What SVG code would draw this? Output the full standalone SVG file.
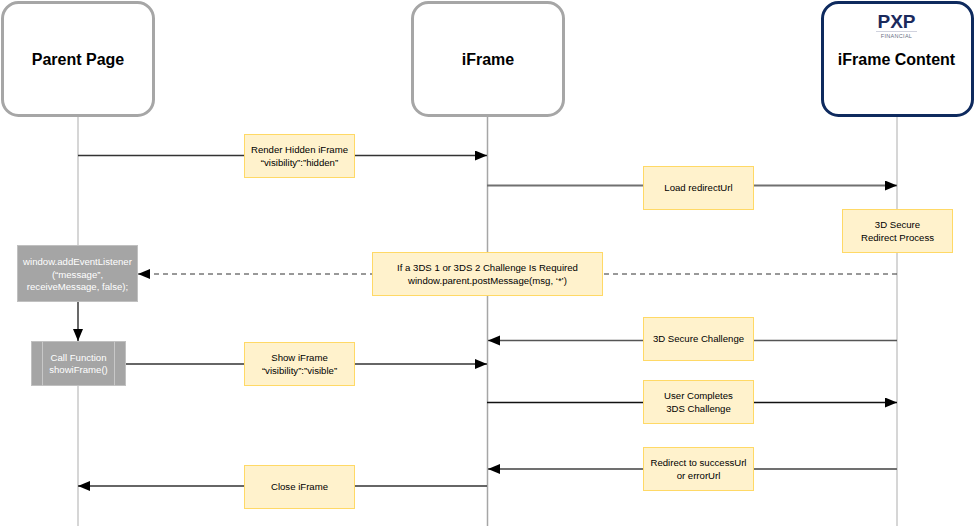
<svg xmlns="http://www.w3.org/2000/svg" width="975" height="526" viewBox="0 0 975 526">
<style>
.head{fill:#fff;stroke:#a6a6a6;stroke-width:3}
.title{font-family:"Liberation Sans",Arial,sans-serif;font-weight:bold;font-size:16px;fill:#000;text-anchor:middle}
.life{stroke:#c8c8c8;stroke-width:1.5;fill:none}
.note{fill:#fff2cc;stroke:#ffd966;stroke-width:1}
.lbl{font-family:"Liberation Sans",Arial,sans-serif;font-size:9.6px;fill:#000;text-anchor:middle}
.wlbl{font-family:"Liberation Sans",Arial,sans-serif;font-size:9.6px;fill:#fff;text-anchor:middle}
.msg{stroke:#333;stroke-width:1.3;fill:none}
.msg2{stroke:#707070;stroke-width:2;fill:none}
.proc{fill:#a5a5a5;stroke:#c0c0c0;stroke-width:1}
</style>
<defs>
<marker id="ah" viewBox="0 0 12 10" refX="12" refY="5" markerWidth="12" markerHeight="10" markerUnits="userSpaceOnUse" orient="auto">
<path d="M0,0 L12,5 L0,10 Z" fill="#000"/>
</marker>
</defs>

<g id="lifelines">
<line class="life" x1="78" y1="116" x2="78" y2="526" stroke="#d0d0d0"/>
<line class="life" x1="487.5" y1="116" x2="487.5" y2="526" style="stroke:#a6a6a6"/>
<line class="life" x1="897" y1="116" x2="897" y2="526"/>
</g>

<g id="parent-page">
<rect class="head" x="2.5" y="2.5" width="151" height="113" rx="16"/>
<text class="title" x="78" y="65">Parent Page</text>
</g>
<g id="iframe">
<rect class="head" x="412.5" y="2.5" width="151" height="113" rx="16"/>
<text class="title" x="488" y="65">iFrame</text>
</g>
<g id="iframe-content">
<rect x="822.5" y="2.5" width="150" height="113" rx="16" fill="#fff" stroke="#0e2a5e" stroke-width="3"/>
<text x="896.5" y="28" font-family="Liberation Sans,Arial,sans-serif" font-weight="bold" font-size="19" fill="#1b2a5c" text-anchor="middle">PXP</text>
<line x1="876" y1="31.5" x2="917" y2="31.5" stroke="#b0b4c8" stroke-width="0.6"/>
<text x="896.5" y="38" font-family="Liberation Sans,Arial,sans-serif" font-size="5.5" fill="#6a6f85" text-anchor="middle" letter-spacing="0.3">FINANCIAL</text>
<text class="title" x="896.5" y="65">iFrame Content</text>
</g>

<g id="connectors">
<line class="msg" x1="78" y1="155.5" x2="487" y2="155.5" marker-end="url(#ah)"/>
<line class="msg2" x1="487" y1="185.5" x2="897" y2="185.5" marker-end="url(#ah)"/>
<line x1="897" y1="274" x2="138" y2="274" stroke="#333" stroke-width="1" stroke-dasharray="5,4" marker-end="url(#ah)"/>
<line x1="78" y1="302" x2="78" y2="341" stroke="#444" stroke-width="1.5" marker-end="url(#ah)"/>
<line class="msg" x1="897" y1="340.5" x2="488" y2="340.5" style="stroke:#555"/>
<path d="M500,335.5 L488,340.5 L500,345.5 Z" fill="#000"/>
<line class="msg" x1="125" y1="364" x2="487" y2="364" marker-end="url(#ah)"/>
<line class="msg" x1="487" y1="402.5" x2="897" y2="402.5" style="stroke:#111" marker-end="url(#ah)"/>
<line class="msg2" x1="897" y1="469" x2="488" y2="469" marker-end="url(#ah)"/>
<line class="msg" x1="487" y1="486" x2="78" y2="486" marker-end="url(#ah)"/>
</g>

<g id="note-render">
<rect class="note" x="244.5" y="134.5" width="110" height="43"/>
<text class="lbl" x="299.5" y="153">Render Hidden iFrame</text>
<text class="lbl" x="299.5" y="166">“visibility”:”hidden”</text>
</g>
<g id="note-load">
<rect class="note" x="643.5" y="166.5" width="110" height="43"/>
<text class="lbl" x="698.5" y="191">Load redirectUrl</text>
</g>
<g id="note-3ds-redirect">
<rect class="note" x="842.5" y="209.5" width="110" height="43"/>
<text class="lbl" x="897.5" y="228">3D Secure</text>
<text class="lbl" x="897.5" y="241">Redirect Process</text>
</g>
<g id="note-challenge-required">
<rect class="note" x="372.5" y="252.5" width="230" height="43"/>
<text class="lbl" x="487.5" y="271">If a 3DS 1 or 3DS 2 Challenge Is Required</text>
<text class="lbl" x="487.5" y="284">window.parent.postMessage(msg, ‘*’)</text>
</g>
<g id="add-event-listener">
<rect class="proc" x="17.5" y="245.5" width="120" height="56"/>
<text class="wlbl" x="77.5" y="265">window.addEventListener</text>
<text class="wlbl" x="77.5" y="277.5">(“message”,</text>
<text class="wlbl" x="77.5" y="290">receiveMessage, false);</text>
</g>
<g id="call-function">
<rect class="proc" x="31.5" y="341.5" width="94" height="44"/>
<line x1="42.5" y1="341.5" x2="42.5" y2="385.5" stroke="#c8c8c8" stroke-width="1"/>
<line x1="114.5" y1="341.5" x2="114.5" y2="385.5" stroke="#c8c8c8" stroke-width="1"/>
<text class="wlbl" x="78.5" y="361">Call Function</text>
<text class="wlbl" x="78.5" y="373">showiFrame()</text>
</g>
<g id="note-show">
<rect class="note" x="244.5" y="342.5" width="110" height="43"/>
<text class="lbl" x="299.5" y="361">Show iFrame</text>
<text class="lbl" x="299.5" y="374">“visibility”:”visible”</text>
</g>
<g id="note-3ds-challenge">
<rect class="note" x="643.5" y="317.5" width="110" height="43"/>
<text class="lbl" x="698.5" y="342">3D Secure Challenge</text>
</g>
<g id="note-user-completes">
<rect class="note" x="643.5" y="380.5" width="110" height="43"/>
<text class="lbl" x="698.5" y="399">User Completes</text>
<text class="lbl" x="698.5" y="412">3DS Challenge</text>
</g>
<g id="note-redirect">
<rect class="note" x="643.5" y="447.5" width="110" height="43"/>
<text class="lbl" x="698.5" y="466">Redirect to successUrl</text>
<text class="lbl" x="698.5" y="479">or errorUrl</text>
</g>
<g id="note-close">
<rect class="note" x="244.5" y="465.5" width="110" height="43"/>
<text class="lbl" x="299.5" y="490">Close iFrame</text>
</g>
</svg>
